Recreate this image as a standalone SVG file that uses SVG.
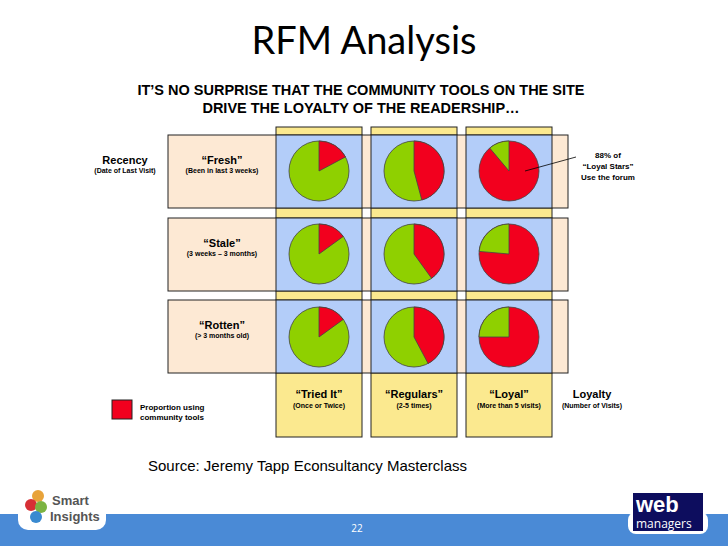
<svg xmlns="http://www.w3.org/2000/svg" width="728" height="546" viewBox="0 0 728 546">
<style>
.b{font-family:"Liberation Sans",Arial,sans-serif;font-weight:bold;fill:#000;text-anchor:middle}
.st{text-anchor:start}
.h{font-size:11px}.s{font-size:7px}.m{font-size:8px}
.row{fill:#fde9d4;stroke:#222;stroke-width:1}
.col{fill:#fbe98f;stroke:#222;stroke-width:1}
.cell{fill:#b3cdf9;stroke:#222;stroke-width:1}
.g{fill:#8fd000;stroke:#444;stroke-width:0.8}
.r{fill:#f2001e;stroke:#444;stroke-width:0.8}
</style>
<rect width="728" height="546" fill="#fff"/>
<text x="364" y="54" font-family="Lato,'Open Sans',sans-serif" font-size="38" text-anchor="middle">RFM Analysis</text>
<text class="b" x="361" y="95" font-size="14.5">IT’S NO SURPRISE THAT THE COMMUNITY TOOLS ON THE SITE</text>
<text class="b" x="361" y="113" font-size="14.5">DRIVE THE LOYALTY OF THE READERSHIP…</text>
<g id="columns">
<rect class="col" x="276" y="127" width="86" height="310"/>
<rect class="col" x="371" y="127" width="86" height="310"/>
<rect class="col" x="466" y="127" width="86" height="310"/>
</g>
<g id="rows">
<rect class="row" x="168" y="135" width="400" height="73"/>
<rect class="row" x="168" y="218" width="400" height="73"/>
<rect class="row" x="168" y="300" width="400" height="73"/>
</g>
<g id="cells">
<rect class="cell" x="276" y="135" width="86" height="73"/><rect class="cell" x="371" y="135" width="86" height="73"/><rect class="cell" x="466" y="135" width="86" height="73"/>
<rect class="cell" x="276" y="218" width="86" height="73"/><rect class="cell" x="371" y="218" width="86" height="73"/><rect class="cell" x="466" y="218" width="86" height="73"/>
<rect class="cell" x="276" y="300" width="86" height="73"/><rect class="cell" x="371" y="300" width="86" height="73"/><rect class="cell" x="466" y="300" width="86" height="73"/>
</g>
<g id="pies">
<g transform="translate(319,171)"><circle class="g" r="30"/><path class="r" d="M0 0V-30A30 30 0 0 1 26.5 -14.1Z"/></g>
<g transform="translate(414,171)"><circle class="g" r="30"/><path class="r" d="M0 0V-30A30 30 0 0 1 7.8 29Z"/></g>
<g transform="translate(509,171)"><circle class="r" r="30"/><path class="g" d="M0 0L-19.3 -23A30 30 0 0 1 0 -30Z"/></g>
<g transform="translate(319,254)"><circle class="g" r="30"/><path class="r" d="M0 0V-30A30 30 0 0 1 24.3 -17.6Z"/></g>
<g transform="translate(414,254)"><circle class="g" r="30"/><path class="r" d="M0 0V-30A30 30 0 0 1 17.6 24.3Z"/></g>
<g transform="translate(509,254)"><circle class="r" r="30"/><path class="g" d="M0 0L-29.9 -2.6A30 30 0 0 1 0 -30Z"/></g>
<g transform="translate(319,337)"><circle class="g" r="30"/><path class="r" d="M0 0V-30A30 30 0 0 1 24.3 -17.6Z"/></g>
<g transform="translate(414,337)"><circle class="g" r="30"/><path class="r" d="M0 0V-30A30 30 0 0 1 14.1 26.5Z"/></g>
<g transform="translate(509,337)"><circle class="r" r="30"/><path class="g" d="M0 0H-30A30 30 0 0 1 0 -30Z"/></g>
</g>
<g id="connectors"><line x1="525" y1="171" x2="576" y2="157" stroke="#000" stroke-width="0.8"/></g>
<g id="labels">
<text class="b h" x="125" y="164">Recency</text><text class="b s" x="125" y="173">(Date of Last Visit)</text>
<text class="b h" x="222" y="164">“Fresh”</text><text class="b s" x="222" y="173">(Been in last 3 weeks)</text>
<text class="b h" x="222" y="247">“Stale”</text><text class="b s" x="222" y="256">(3 weeks – 3 months)</text>
<text class="b h" x="222" y="329">“Rotten”</text><text class="b s" x="222" y="338">(&gt; 3 months old)</text>
<text class="b m" x="608" y="158">88% of</text><text class="b m" x="608" y="169">“Loyal Stars”</text><text class="b m" x="608" y="180">Use the forum</text>
<text class="b h" x="319" y="398">“Tried It”</text><text class="b s" x="319" y="408">(Once or Twice)</text>
<text class="b h" x="414" y="398">“Regulars”</text><text class="b s" x="414" y="408">(2-5 times)</text>
<text class="b h" x="509" y="398">“Loyal”</text><text class="b s" x="509" y="408">(More than 5 visits)</text>
<text class="b h" x="592" y="398">Loyalty</text><text class="b s" x="592" y="408">(Number of Visits)</text>
</g>
<g id="legend">
<rect x="112" y="400" width="20" height="19" fill="#f2001e" stroke="#222"/>
<text class="b m st" x="140" y="410">Proportion using</text>
<text class="b m st" x="140" y="420">community tools</text>
</g>
<text x="148" y="471" font-family="'Liberation Sans',Arial,sans-serif" font-size="15">Source: Jeremy Tapp Econsultancy Masterclass</text>
<rect x="0" y="514" width="728" height="32" fill="#4a8ad6"/>
<text x="357" y="532" font-family="'Open Sans',sans-serif" font-size="10" fill="#fff" text-anchor="middle">22</text>
<g id="logo-left">
<rect x="18" y="490" width="88" height="40" rx="10" fill="#fff"/>
<circle cx="38" cy="496" r="6" fill="#e8a33a"/><circle cx="31" cy="505" r="6" fill="#d72f35"/><circle cx="41" cy="507" r="6" fill="#7cb342"/><circle cx="36" cy="517" r="6" fill="#3a8ad0"/>
<text x="52" y="505" font-family="'Liberation Sans',Arial,sans-serif" font-weight="bold" font-size="13" fill="#555">Smart</text>
<text x="50" y="521" font-family="'Liberation Sans',Arial,sans-serif" font-weight="bold" font-size="13" fill="#555">Insights</text>
</g>
<g id="logo-right">
<rect x="628" y="512" width="80" height="22" rx="8" fill="#fff"/>
<rect x="633" y="493" width="70" height="38" fill="#0d0d5e"/>
<text x="636" y="512" font-family="'Liberation Sans',Arial,sans-serif" font-weight="bold" font-size="22" fill="#fff">web</text>
<text x="636" y="528" font-family="'Open Sans',sans-serif" font-size="12" fill="#fff">managers</text>
</g>
</svg>
